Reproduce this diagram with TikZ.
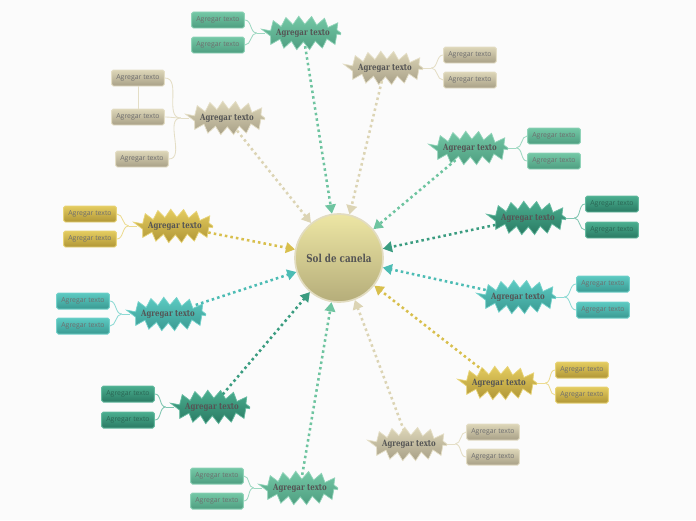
\documentclass[tikz,border=0pt]{standalone}
\usepackage{fontspec}
\usepackage{tikz}
\usetikzlibrary{shapes.geometric,decorations.pathmorphing,arrows.meta}
\newfontfamily\slabfont{DejaVu Serif}[FakeStretch=0.8]
\newfontfamily\leaffont{Open Sans}
\definecolor{bgcol}{HTML}{FBFBFB}
\definecolor{txtgray}{HTML}{555555}
\definecolor{leafgray}{HTML}{6E6E6E}
\definecolor{darkleaf}{HTML}{2A6654}
\definecolor{grnT}{HTML}{74C8A6}
\definecolor{grnB}{HTML}{4E9E80}
\definecolor{grnL}{HTML}{6EC4A0}
\definecolor{tanT}{HTML}{DDD6B8}
\definecolor{tanB}{HTML}{A8A087}
\definecolor{tanL}{HTML}{DCD4B4}
\definecolor{drkT}{HTML}{4AAE8F}
\definecolor{drkB}{HTML}{2A7A63}
\definecolor{drkL}{HTML}{3A9C80}
\definecolor{gldT}{HTML}{E4CC60}
\definecolor{gldB}{HTML}{B09636}
\definecolor{gldL}{HTML}{D8BF4C}
\definecolor{tlT}{HTML}{5CCAC2}
\definecolor{tlB}{HTML}{3A9A92}
\definecolor{tlL}{HTML}{4CBCB4}
\definecolor{sunT}{HTML}{EDE6A4}
\definecolor{sunB}{HTML}{B5AD7A}
\definecolor{sunL}{HTML}{E2DCC0}

\begin{document}
\begin{tikzpicture}[x=0.025cm, y=-0.025cm,
    burst/.style={ellipse, inner sep=0pt, minimum width=1.72cm, minimum height=0.64cm,
        line width=0.5pt,
        decorate, decoration={zigzag, segment length=0.31cm, amplitude=0.1cm},
        text=txtgray, font=\slabfont\bfseries\fontsize{6.2}{7}\selectfont},
    leaf/.style={rectangle, rounded corners=1.2pt, inner sep=0pt, minimum width=1.32cm,
        minimum height=0.4cm, line width=0.7pt, text=leafgray,
        font=\leaffont\fontsize{4.9}{6}\selectfont},
    link/.style={line width=1.8pt, dash pattern=on 1.8pt off 2.2pt,
        -{Triangle[length=6.5pt,width=7.5pt]}},
    branch/.style={line width=0.6pt},
    green/.style={top color=grnT, bottom color=grnB, draw=grnT!80!white},
    tan/.style={top color=tanT, bottom color=tanB, draw=tanT!80!white},
    dark/.style={top color=drkT, bottom color=drkB, draw=drkT!85!white},
    gold/.style={top color=gldT, bottom color=gldB, draw=gldT!85!white},
    teal/.style={top color=tlT, bottom color=tlB, draw=tlT!85!white}]
    \useasboundingbox[fill=bgcol] (0,0) rectangle (696,520);
    % Center
    \node[circle, minimum size=2.2cm, inner sep=0pt, top color=sunT, bottom color=sunB,
        draw=sunL, line width=1.2pt, text=txtgray,
        font=\slabfont\bfseries\fontsize{7.8}{8}\selectfont] (sun) at (339,258) {Sol de canela};
    % Main topics
    \node[burst, green] (g1) at (303,33) {Agregar texto};
    \node[burst, tan] (t1) at (385,68) {Agregar texto};
    \node[burst, tan] (t2) at (227,118) {Agregar texto};
    \node[burst, green] (g2) at (470,148) {Agregar texto};
    \node[burst, dark] (d1) at (528,218) {Agregar texto};
    \node[burst, gold] (y1) at (175,226) {Agregar texto};
    \node[burst, teal] (c1) at (168,314) {Agregar texto};
    \node[burst, teal] (c2) at (518,297) {Agregar texto};
    \node[burst, dark] (d2) at (212,407) {Agregar texto};
    \node[burst, gold] (y2) at (499,383) {Agregar texto};
    \node[burst, tan] (t3) at (409,444) {Agregar texto};
    \node[burst, green] (g3) at (300,488) {Agregar texto};
    % Links to center
    \draw[link, grnL] (g1) -- (sun);
    \draw[link, tanL] (t1) -- (sun);
    \draw[link, tanL] (t2) -- (sun);
    \draw[link, grnL] (g2) -- (sun);
    \draw[link, drkL] (d1) -- (sun);
    \draw[link, gldL] (y1) -- (sun);
    \draw[link, tlL] (c1) -- (sun);
    \draw[link, tlL] (c2) -- (sun);
    \draw[link, drkL] (d2) -- (sun);
    \draw[link, gldL] (y2) -- (sun);
    \draw[link, tanL] (t3) -- (sun);
    \draw[link, grnL] (g3) -- (sun);
    % Subtopics
    \node[leaf, green] (g1a) at (218,20) {Agregar texto};
    \node[leaf, green] (g1b) at (218,45) {Agregar texto};
    \node[leaf, tan] (t1a) at (470,55) {Agregar texto};
    \node[leaf, tan] (t1b) at (470,80) {Agregar texto};
    \node[leaf, tan] (t2a) at (138,78) {Agregar texto};
    \node[leaf, tan] (t2b) at (138,117) {Agregar texto};
    \node[leaf, tan] (t2c) at (142,159) {Agregar texto};
    \node[leaf, green] (g2a) at (554,136) {Agregar texto};
    \node[leaf, green] (g2b) at (554,161) {Agregar texto};
    \node[leaf, dark, text=darkleaf] (d1a) at (612,204) {Agregar texto};
    \node[leaf, dark, text=darkleaf] (d1b) at (612,230) {Agregar texto};
    \node[leaf, gold] (y1a) at (90,214) {Agregar texto};
    \node[leaf, gold] (y1b) at (90,239) {Agregar texto};
    \node[leaf, teal] (c1a) at (83,301) {Agregar texto};
    \node[leaf, teal] (c1b) at (83,326) {Agregar texto};
    \node[leaf, teal] (c2a) at (603,284) {Agregar texto};
    \node[leaf, teal] (c2b) at (603,310) {Agregar texto};
    \node[leaf, dark, text=darkleaf] (d2a) at (128,394) {Agregar texto};
    \node[leaf, dark, text=darkleaf] (d2b) at (128,420) {Agregar texto};
    \node[leaf, gold] (y2a) at (582,370) {Agregar texto};
    \node[leaf, gold] (y2b) at (582,395) {Agregar texto};
    \node[leaf, tan] (t3a) at (493,432) {Agregar texto};
    \node[leaf, tan] (t3b) at (493,457) {Agregar texto};
    \node[leaf, green] (g3a) at (217,476) {Agregar texto};
    \node[leaf, green] (g3b) at (217,501) {Agregar texto};
    % Branches, left side
    \draw[branch, grnT!70!white] (g1.west) -- ++(-8,0) coordinate (g1j);
    \draw[branch, grnT!70!white] (g1j) to[out=180, in=0] (g1a.east);
    \draw[branch, grnT!70!white] (g1j) to[out=180, in=0] (g1b.east);
    \draw[branch, tanT!80!white] (t2.west) -- ++(-8,0) coordinate (t2j);
    \draw[branch, tanT!80!white] (t2j) to[out=180, in=0] (t2a.east);
    \draw[branch, tanT!80!white] (t2j) to[out=180, in=0] (t2b.east);
    \draw[branch, tanT!80!white] (t2j) to[out=180, in=0] (t2c.east);
    \draw[branch, tanT!80!white] (t2a) -- (t2b);
    \draw[branch, gldT!70!white] (y1.west) -- ++(-8,0) coordinate (y1j);
    \draw[branch, gldT!70!white] (y1j) to[out=180, in=0] (y1a.east);
    \draw[branch, gldT!70!white] (y1j) to[out=180, in=0] (y1b.east);
    \draw[branch, tlT!70!white] (c1.west) -- ++(-8,0) coordinate (c1j);
    \draw[branch, tlT!70!white] (c1j) to[out=180, in=0] (c1a.east);
    \draw[branch, tlT!70!white] (c1j) to[out=180, in=0] (c1b.east);
    \draw[branch, drkT!70!white] (d2.west) -- ++(-8,0) coordinate (d2j);
    \draw[branch, drkT!70!white] (d2j) to[out=180, in=0] (d2a.east);
    \draw[branch, drkT!70!white] (d2j) to[out=180, in=0] (d2b.east);
    \draw[branch, grnT!70!white] (g3.west) -- ++(-8,0) coordinate (g3j);
    \draw[branch, grnT!70!white] (g3j) to[out=180, in=0] (g3a.east);
    \draw[branch, grnT!70!white] (g3j) to[out=180, in=0] (g3b.east);
    % Branches, right side
    \draw[branch, tanT!80!white] (t1.east) -- ++(8,0) coordinate (t1j);
    \draw[branch, tanT!80!white] (t1j) to[out=0, in=180] (t1a.west);
    \draw[branch, tanT!80!white] (t1j) to[out=0, in=180] (t1b.west);
    \draw[branch, grnT!70!white] (g2.east) -- ++(8,0) coordinate (g2j);
    \draw[branch, grnT!70!white] (g2j) to[out=0, in=180] (g2a.west);
    \draw[branch, grnT!70!white] (g2j) to[out=0, in=180] (g2b.west);
    \draw[branch, drkT!70!white] (d1.east) -- ++(8,0) coordinate (d1j);
    \draw[branch, drkT!70!white] (d1j) to[out=0, in=180] (d1a.west);
    \draw[branch, drkT!70!white] (d1j) to[out=0, in=180] (d1b.west);
    \draw[branch, tlT!70!white] (c2.east) -- ++(8,0) coordinate (c2j);
    \draw[branch, tlT!70!white] (c2j) to[out=0, in=180] (c2a.west);
    \draw[branch, tlT!70!white] (c2j) to[out=0, in=180] (c2b.west);
    \draw[branch, gldT!70!white] (y2.east) -- ++(8,0) coordinate (y2j);
    \draw[branch, gldT!70!white] (y2j) to[out=0, in=180] (y2a.west);
    \draw[branch, gldT!70!white] (y2j) to[out=0, in=180] (y2b.west);
    \draw[branch, tanT!80!white] (t3.east) -- ++(8,0) coordinate (t3j);
    \draw[branch, tanT!80!white] (t3j) to[out=0, in=180] (t3a.west);
    \draw[branch, tanT!80!white] (t3j) to[out=0, in=180] (t3b.west);
\end{tikzpicture}
\end{document}
